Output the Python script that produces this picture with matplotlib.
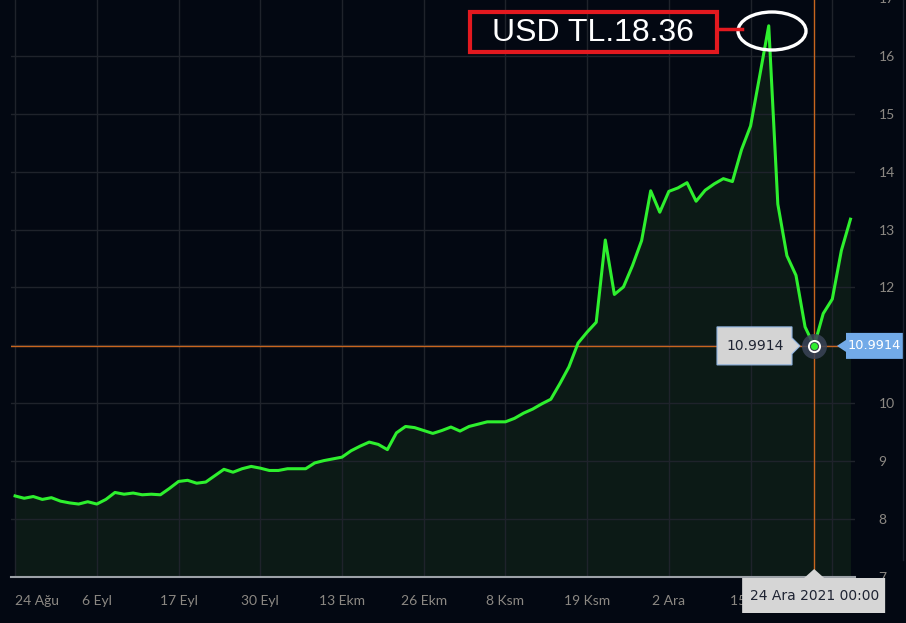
# USD/TRY daily chart, Aug-Dec 2021, dark trading-terminal style

import numpy as np
import matplotlib
matplotlib.use('Agg')
import matplotlib.pyplot as plt
from matplotlib.patches import Rectangle, Ellipse, Polygon
from matplotlib.lines import Line2D
from matplotlib.transforms import Affine2D

# Data (one value per business day, 24 Aug -> 30 Dec 2021)
usdtry = [8.40, 8.36, 8.39, 8.34, 8.37, 8.31, 8.28, 8.26, 8.30, 8.26,
          8.34, 8.46, 8.43, 8.45, 8.42, 8.43, 8.42, 8.53, 8.65, 8.67,
          8.62, 8.64, 8.75, 8.86, 8.81, 8.87, 8.91, 8.88, 8.84, 8.84,
          8.87, 8.87, 8.87, 8.97, 9.01, 9.04, 9.07, 9.18, 9.26, 9.33,
          9.29, 9.20, 9.49, 9.60, 9.58, 9.53, 9.48, 9.53, 9.59, 9.52,
          9.60, 9.64, 9.68, 9.68, 9.68, 9.74, 9.83, 9.90, 9.99, 10.07,
          10.34, 10.63, 11.04, 11.23, 11.40, 12.82, 11.88, 12.01, 12.38, 12.81,
          13.67, 13.30, 13.66, 13.72, 13.81, 13.49, 13.68, 13.79, 13.88, 13.83,
          14.38, 14.79, 15.65, 16.52, 13.44, 12.55, 12.21, 11.32, 10.99, 11.55,
          11.80, 12.64, 13.18]
date_ticks = [0, 9, 18, 27, 36, 45, 54, 63, 72, 81, 90]
date_labels = ['24 Ağu', '6 Eyl', '17 Eyl', '30 Eyl', '13 Ekm', '26 Ekm',
               '8 Ksm', '19 Ksm', '2 Ara', '15 Ara', '']
price_ticks = [7, 8, 9, 10, 11, 12, 13, 14, 15, 16, 17]
cross_idx = 88
cross_val = 10.9914
cross_date = '24 Ara 2021 00:00'
note = 'USD TL.18.36'

W, H = 906, 623
bg = '#030812'
grid_c = '#1f232b'
txt_c = '#8c8883'

fig = plt.figure(figsize=(W / 100, H / 100), dpi=100)
fig.patch.set_facecolor(bg)
ax = fig.add_axes([11 / W, 46 / H, 844 / W, 579 / H])
ax.set_facecolor(bg)

x = np.arange(len(usdtry))
ax.fill_between(x, usdtry, 7, color='#0c1a16', lw=0, zorder=1)
ax.plot(x, usdtry, color='#2ef02e', lw=2.2, solid_joinstyle='round', zorder=3)

ax.set_xlim(-0.45, 92.5)
ax.set_ylim(7, 17)
ax.set_xticks(date_ticks)
ax.set_xticklabels(date_labels, family='Lato', fontsize=10, color=txt_c)
ax.get_xticklabels()[0].set_ha('left')
ax.set_yticks(price_ticks)
# the "11" level sits under the blue price tag, so it is not shown
ax.set_yticklabels(['' if v == 11 else str(v) for v in price_ticks],
                   family='Lato', fontsize=10, color=txt_c)
ax.yaxis.tick_right()
ax.tick_params(axis='x', length=0, pad=13)
ax.tick_params(axis='y', length=0, pad=17)
ax.grid(True, color=grid_c, lw=1, zorder=0)
for s in ['top', 'left', 'right']:
    ax.spines[s].set_visible(False)
ax.spines['bottom'].set_color('#9da2a8')
ax.spines['bottom'].set_linewidth(1.5)

# crosshair
cross_c = '#c8651e'
ax.axvline(cross_idx, color=cross_c, lw=1, zorder=2)
ax.axhline(cross_val, color=cross_c, lw=1, zorder=2)
ax.plot(cross_idx, cross_val, 'o', ms=18, color='#3a4457', alpha=0.85, mew=0, zorder=4)
ax.plot(cross_idx, cross_val, 'o', ms=8, mfc='none', mec='white', mew=1.4, zorder=5)
ax.plot(cross_idx, cross_val, 'o', ms=4, color='#2ef02e', zorder=5)

# pixel space (y down) for the overlays
T = Affine2D().scale(1, -1).translate(0, H)
dx, dy = ax.transData.transform((cross_idx, cross_val))
cx, cy = dx, H - dy

left_lab = Polygon([(717, cy - 19), (792, cy - 19), (792, cy - 8), (800, cy),
                    (792, cy + 8), (792, cy + 19), (717, cy + 19)],
                   closed=True, fc='#d4d4d4', ec='#8fb3e0', lw=0.8, transform=T)
fig.add_artist(left_lab)
fig.text(755, H - cy, f'{cross_val:.4f}', transform=Affine2D(), ha='center', va='center',
         fontsize=10, color='#1f2433', family='DejaVu Sans')

right_lab = Polygon([(846, cy - 13), (903, cy - 13), (903, cy + 13), (846, cy + 13),
                     (846, cy + 6), (837, cy), (846, cy - 6)],
                    closed=True, fc='#72aae8', ec='none', transform=T)
fig.add_artist(right_lab)
fig.text(874.5, H - cy, f'{cross_val:.4f}', transform=Affine2D(), ha='center', va='center',
         fontsize=9.3, color='white', family='DejaVu Sans')

date_box = Polygon([(cx - 72, 578), (cx - 10, 578), (cx, 569), (cx + 10, 578),
                    (cx + 71, 578), (cx + 71, 613), (cx - 72, 613)],
                   closed=True, fc='#d6d6d6', ec='none', transform=T, zorder=5)
fig.add_artist(date_box)
fig.text(cx, H - 596, cross_date, transform=Affine2D(), ha='center', va='center',
         fontsize=10, color='#1f2433', family='DejaVu Sans', zorder=6)

# right border of price scale
fig.add_artist(Line2D([903, 903], [0, 560], color='#1a1f2b', lw=1, transform=T))

# hand-drawn highlight: red box, connector, ellipse round the peak
red = '#e3191f'
fig.add_artist(Rectangle((470, 12), 247, 40, fill=False, ec=red, lw=3, transform=T))
fig.add_artist(Line2D([717, 742], [29, 29], color=red, lw=2.5, transform=T))
fig.add_artist(Ellipse((772, 31), 68, 38, fill=False, ec='white', lw=2.4, transform=T))
fig.text(593, H - 33, note, transform=Affine2D(), ha='center', va='center',
         fontsize=23, color='white', family='Liberation Sans')

fig.savefig('out.png', dpi=100, facecolor=bg)
